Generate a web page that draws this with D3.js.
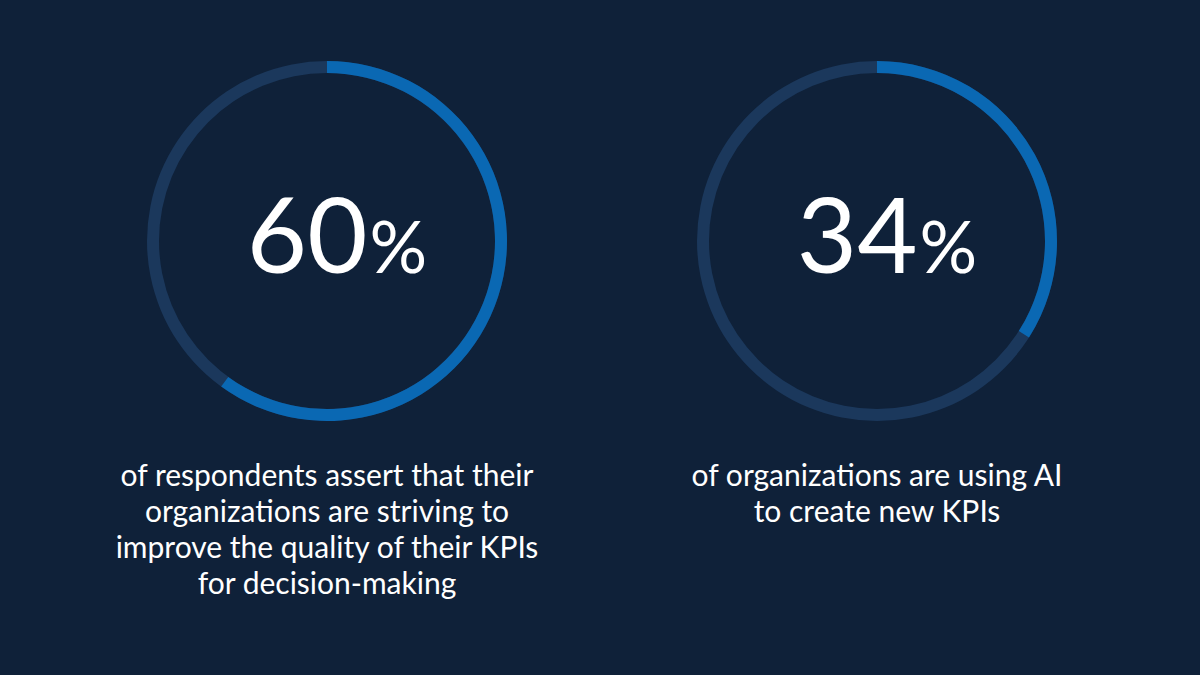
<!DOCTYPE html>
<html lang="en">
<head>
<meta charset="UTF-8">
<title>KPI rings</title>
<style>
  html, body { margin: 0; padding: 0; background: #0f2139; }
  svg { display: block; }
</style>
</head>
<body>
<script src="https://d3js.org/d3.v7.min.js"></script>
<script>
  const w = 1200;
  const h = 675;

  // data
  const values = [60, 34];
  const captions = [
    ["of respondents assert that their", "organizations are striving to", "improve the quality of their KPIs", "for decision-making"],
    ["of organizations are using AI", "to create new KPIs"]
  ];

  const bg = "#0f2139";
  const trackColor = "#1b385c";
  const arcColor = "#0a68b3";
  const font = "Lato, 'Open Sans', sans-serif";

  const svg = d3.select("body").append("svg")
    .attr("width", w)
    .attr("height", h);

  svg.append("rect").attr("width", w).attr("height", h).attr("fill", bg);

  const xScale = d3.scalePoint()
    .domain(d3.range(values.length))
    .range([327, 877]);

  const angle = d3.scaleLinear().domain([0, 100]).range([0, 2 * Math.PI]);

  const outerR = 180, thick = 12;
  const arc = d3.arc().innerRadius(outerR - thick).outerRadius(outerR);

  const groups = svg.selectAll(".ring")
    .data(values)
    .enter()
    .append("g")
    .attr("class", "ring")
    .attr("transform", (d, i) => `translate(${xScale(i)}, 241)`);

  groups.append("path")
    .attr("d", arc({ startAngle: 0, endAngle: 2 * Math.PI }))
    .attr("fill", trackColor);

  groups.append("path")
    .attr("d", d => arc({ startAngle: 0, endAngle: angle(d) }))
    .attr("fill", arcColor);

  const big = groups.append("text")
    .attr("x", 10)
    .attr("y", 32)
    .attr("text-anchor", "middle")
    .attr("fill", "#ffffff")
    .style("font-family", font)
    .style("font-weight", 400);
  big.append("tspan").style("font-size", "104px").text(d => d);
  big.append("tspan").style("font-size", "72px").attr("dx", 2).text("%");

  groups.each(function(d, i) {
    d3.select(this).append("text")
      .attr("text-anchor", "middle")
      .attr("fill", "#ffffff")
      .style("font-family", font)
      .style("font-size", "30px")
      .selectAll("tspan")
      .data(captions[i])
      .enter()
      .append("tspan")
      .attr("x", 0)
      .attr("y", (t, j) => 245 + j * 36)
      .text(t => t);
  });
</script>
</body>
</html>
